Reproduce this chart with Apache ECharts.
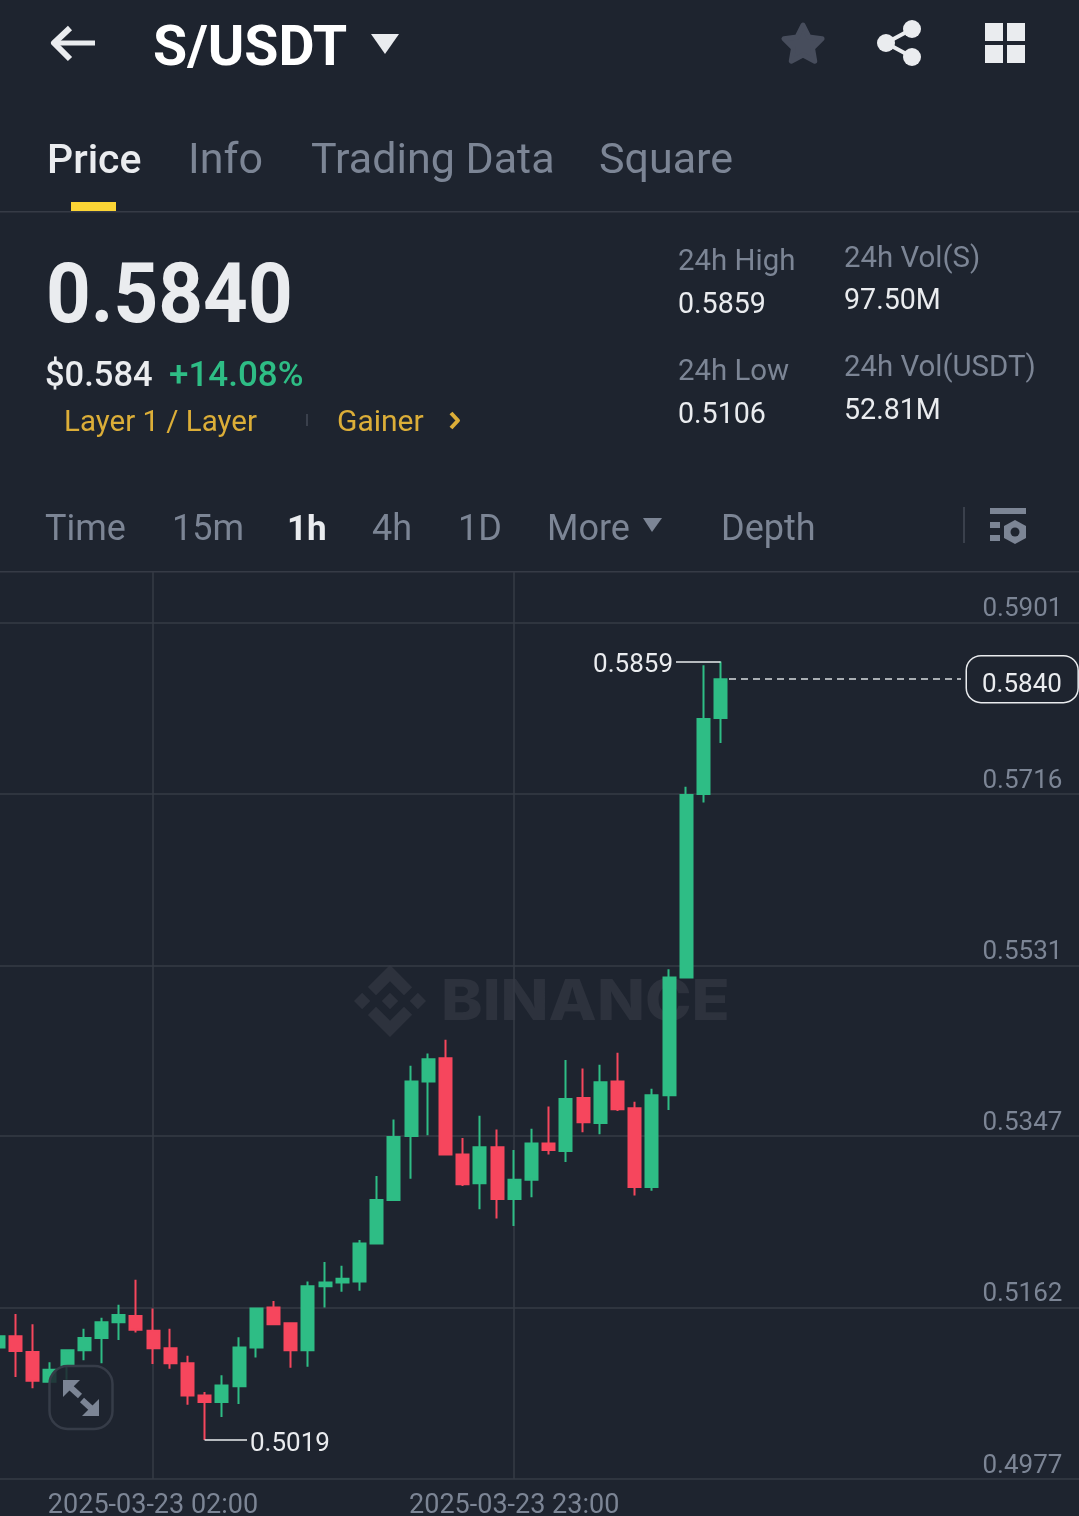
<!DOCTYPE html>
<html lang="en">
<head>
<meta charset="UTF-8">
<title>S/USDT</title>
<script src="https://cdn.jsdelivr.net/npm/echarts@6/dist/echarts.min.js"></script>
<style>
html, body { margin: 0; padding: 0; background: #1e242f; overflow: hidden; }
#main { width: 1079px; height: 1516px; }
</style>
</head>
<body>
<div id="main"></div>
<script>
// 1h candles. first one is 2025-03-22 17:00
var opens = [0.5119,0.5131,0.5114,0.5082,0.5100,0.5116,0.5129,0.5146,0.5153,0.5137,0.5118,0.5102,0.5067,0.5060,0.5077,0.5119,0.5162,0.5145,0.5116,0.5185,0.5189,0.5190,0.5231,0.5278,0.5347,0.5406,0.5431,0.5327,0.5296,0.5335,0.5279,0.5300,0.5339,0.5331,0.5388,0.5361,0.5406,0.5377,0.5292,0.5391,0.5518,0.5716,0.5798];
var closes = [0.5131,0.5115,0.5083,0.5095,0.5116,0.5129,0.5146,0.5154,0.5138,0.5118,0.5102,0.5067,0.5060,0.5078,0.5119,0.5161,0.5144,0.5116,0.5185,0.5189,0.5193,0.5231,0.5278,0.5346,0.5406,0.5430,0.5327,0.5295,0.5335,0.5279,0.5300,0.5339,0.5332,0.5387,0.5362,0.5405,0.5376,0.5292,0.5391,0.5518,0.5715,0.5797,0.5840];
var lows = [0.5116,0.5087,0.5075,0.5081,0.5084,0.5105,0.5102,0.5127,0.5135,0.5101,0.5096,0.5057,0.5019,0.5044,0.5058,0.5108,0.5143,0.5097,0.5098,0.5162,0.5179,0.5180,0.5230,0.5278,0.5301,0.5348,0.5326,0.5293,0.5268,0.5258,0.5250,0.5281,0.5327,0.5319,0.5351,0.5349,0.5374,0.5283,0.5288,0.5375,0.5517,0.5707,0.5771];
var highs = [0.5135,0.5155,0.5144,0.5103,0.5116,0.5139,0.5151,0.5165,0.5192,0.5161,0.5139,0.5110,0.5071,0.5089,0.5130,0.5161,0.5169,0.5146,0.5190,0.5211,0.5207,0.5235,0.5304,0.5365,0.5423,0.5436,0.5451,0.5345,0.5369,0.5354,0.5332,0.5355,0.5379,0.5429,0.5420,0.5424,0.5437,0.5384,0.5398,0.5527,0.5724,0.5855,0.5859];

var priceTicks = [0.4977, 0.5162, 0.5347, 0.5531, 0.5716, 0.5901];
var dateTicks = ['2025-03-23 02:00', '2025-03-23 23:00'];
var tabs = [['Price', 47], ['Info', 188], ['Trading Data', 311], ['Square', 599]];
var periods = [['Time', 45], ['15m', 172], ['1h', 287], ['4h', 372], ['1D', 458], ['More', 547], ['Depth', 721]];
var stats = [
    ['24h High', 678, 269, '0.5859', 312],
    ['24h Vol(S)', 844, 266, '97.50M', 308],
    ['24h Low', 678, 379, '0.5106', 422],
    ['24h Vol(USDT)', 844, 375, '52.81M', 418]
];

var BG = '#1e242f', GREEN = '#2ebd85', RED = '#f6465d', WHITE = '#eaecef', GRAY = '#7c8595', LINE = '#363b46', GOLD = '#dcae38';
var FONT = 'Roboto, sans-serif';
var MARK = '#2d323d';

// hourly slots, the right side of the chart is left empty
var slots = [];
for (var h = 0; h < 64; h++) {
    var d = new Date(Date.UTC(2025, 2, 22, 17 + h));
    slots.push(d.toISOString().slice(0, 16).replace('T', ' '));
}
var candles = opens.map(function (o, i) { return [o, closes[i], lows[i], highs[i]]; });
var lastIdx = opens.length - 1;
var maxHigh = Math.max.apply(null, highs), minLow = Math.min.apply(null, lows);
function isDateTick(i, name) { return dateTicks.indexOf(name) >= 0; }

function txt(s, x, base, size, fill, weight, scaleX) {
    return {
        type: 'text', x: x, y: base - size * 0.22, scaleX: scaleX || 1,
        style: { text: s, fill: fill, font: (weight || 400) + ' ' + size + 'px ' + FONT, verticalAlign: 'middle' }
    };
}
function poly(points, fill) {
    return { type: 'polygon', shape: { points: points }, style: { fill: fill } };
}
function stroke(points, color, w) {
    return { type: 'polyline', shape: { points: points }, style: { stroke: color, lineWidth: w, fill: 'none', lineJoin: 'round' } };
}
function rect(x, y, w, h, fill) {
    return { type: 'rect', shape: { x: x, y: y, width: w, height: h }, style: { fill: fill } };
}
function circle(x, y, r, fill) {
    return { type: 'circle', shape: { cx: x, cy: y, r: r }, style: { fill: fill } };
}
function starPoints(cx, cy, r) {
    var pts = [];
    for (var i = 0; i < 10; i++) {
        var a = -Math.PI / 2 + i * Math.PI / 5, q = i % 2 ? r * 0.5 : r;
        pts.push([cx + q * Math.cos(a), cy + q * Math.sin(a)]);
    }
    return pts;
}
// diamond logo of the watermark, drawn below the candles
function logoPart(points) {
    var s = 72 / 126.61;
    return {
        type: 'polygon', z: -1,
        shape: { points: points.map(function (p) { return [354 + p[0] * s, 965 + p[1] * s]; }) },
        style: { fill: MARK }
    };
}
// leader label, text sits a bit below its line
function leaderLabel(value) {
    return {
        formatter: '{t|' + value.toFixed(4) + '}', position: 'end', distance: 3,
        rich: { t: { color: WHITE, fontSize: 26, fontFamily: FONT, padding: [8, 0, 0, 0] } }
    };
}

var chrome = [
    // header
    stroke([[70, 28], [54, 43], [70, 59]], WHITE, 6),
    stroke([[55, 43], [95, 43]], WHITE, 5),
    txt('S/USDT', 153, 63, 55.5, '#ffffff', 700),
    poly([[371, 34], [399, 34], [385, 54]], WHITE),
    { type: 'polygon', shape: { points: starPoints(803, 45, 20) }, style: { fill: '#474d5c', stroke: '#474d5c', lineWidth: 5, lineJoin: 'round' } },
    stroke([[912, 29], [886, 43], [912, 57]], WHITE, 4),
    circle(912, 29, 9, WHITE), circle(912, 57, 9, WHITE), circle(886, 43, 9, WHITE),
    rect(985, 23, 18, 18, WHITE), rect(1007, 23, 18, 18, WHITE), rect(985, 45, 18, 18, WHITE), rect(1007, 45, 18, 18, WHITE),
    // tab bar
    rect(0, 211, 1079, 1.5, LINE),
    rect(71, 202, 45, 9, '#fcd535'),
    // price block
    txt('0.5840', 46, 319, 84, WHITE, 700, 0.93),
    txt('$0.584', 45, 385, 34.5, WHITE, 500),
    txt('+14.08%', 169, 385, 35, GREEN, 500),
    txt('Layer 1 / Layer', 64, 430, 29.5, GOLD),
    rect(306, 414, 2, 12, '#3a404c'),
    txt('Gainer', 337, 430, 30, GOLD),
    stroke([[451, 413], [458, 420.5], [451, 428]], GOLD, 4),
    // period row
    poly([[643, 518], [662, 518], [652, 532]], GRAY),
    rect(963, 507, 2, 36, '#3a404c'),
    rect(990, 508, 36, 6, GRAY), rect(990, 522, 10, 6, GRAY), rect(990, 535, 10, 6, GRAY),
    poly([[1015, 520], [1026, 526], [1026, 538], [1015, 544], [1004, 538], [1004, 526]], GRAY),
    circle(1015, 532, 4.5, BG),
    rect(0, 571, 1079, 1.5, LINE),
    // fullscreen button
    { type: 'rect', z: 10, shape: { x: 49.5, y: 1366, width: 63, height: 63, r: 18 }, style: { fill: 'rgba(30,36,47,0.85)', stroke: '#363c48', lineWidth: 2.5 } },
    { type: 'polygon', z: 11, shape: { points: [[63, 1380], [80, 1380], [63, 1397]] }, style: { fill: '#7c8595' } },
    { type: 'polygon', z: 11, shape: { points: [[99, 1416], [82, 1416], [99, 1399]] }, style: { fill: '#7c8595' } },
    { type: 'polyline', z: 11, shape: { points: [[69, 1386], [80, 1396]] }, style: { stroke: '#7c8595', lineWidth: 6, fill: 'none' } },
    { type: 'polyline', z: 11, shape: { points: [[82, 1400], [93, 1410]] }, style: { stroke: '#7c8595', lineWidth: 6, fill: 'none' } },
    // watermark
    logoPart([[38.73, 53.2], [63.32, 28.62], [87.92, 53.22], [102.22, 38.91], [63.32, 0], [24.43, 38.9]]),
    logoPart([[0, 63.31], [14.3, 49], [28.61, 63.31], [14.3, 77.61]]),
    logoPart([[38.73, 73.41], [63.32, 98], [87.93, 73.39], [102.24, 87.69], [63.32, 126.61], [24.42, 87.71]]),
    logoPart([[98, 63.31], [112.3, 49], [126.61, 63.31], [112.3, 77.61]]),
    logoPart([[77.83, 63.3], [63.32, 48.78], [48.82, 63.28], [63.32, 77.79]]),
    { type: 'text', z: -1, x: 441, y: 1003, scaleX: 1.12, style: { text: 'BINANCE', fill: MARK, font: '800 56px Inter, sans-serif', verticalAlign: 'middle' } }
];
tabs.forEach(function (t, i) {
    if (i === 0) chrome.push(txt(t[0], t[1], 171.5, 41, WHITE, 500));
    else chrome.push(txt(t[0], t[1], 171.5, 43, GRAY, 400));
});
periods.forEach(function (p) { chrome.push(txt(p[0], p[1], 539, p[0] === '1h' ? 35 : 36, p[0] === '1h' ? WHITE : GRAY, p[0] === '1h' ? 700 : 400)); });
stats.forEach(function (s) {
    chrome.push(txt(s[0], s[1], s[2], 29.4, GRAY));
    chrome.push(txt(s[3], s[1], s[4], 28.6, WHITE));
});

var myChart = echarts.init(document.getElementById('main'));
var option = {
    animation: false,
    backgroundColor: BG,
    textStyle: { fontFamily: FONT },
    grid: { left: -10.4, right: -11.4, top: 572, bottom: 37, outerBoundsMode: 'none' },
    xAxis: {
        type: 'category',
        data: slots,
        axisLine: { show: false },
        axisTick: { show: false, alignWithLabel: true, interval: isDateTick },
        axisLabel: { interval: isDateTick, color: GRAY, fontSize: 27, margin: 14, hideOverlap: false },
        splitLine: { show: true, alignWithLabel: true, interval: isDateTick, lineStyle: { color: LINE, width: 1.5 } }
    },
    yAxis: {
        type: 'value',
        position: 'right',
        min: 0.4977,
        max: 0.59556,
        axisLine: { show: false },
        axisTick: { show: false, customValues: priceTicks },
        axisLabel: {
            customValues: priceTicks,
            inside: true,
            margin: 28,
            color: GRAY,
            fontSize: 26,
            verticalAlign: 'bottom',
            showMinLabel: true,
            showMaxLabel: true,
            formatter: function (v) { return v.toFixed(4); }
        },
        splitLine: { show: true, lineStyle: { color: LINE, width: 1.5 } }
    },
    graphic: chrome,
    series: [{
        type: 'candlestick',
        data: candles,
        barWidth: 12.5,
        itemStyle: { color: GREEN, color0: RED, borderColor: GREEN, borderColor0: RED, borderWidth: 2 },
        markLine: {
            silent: true,
            symbol: 'none',
            animation: false,
            data: [
                [
                    { xAxis: highs.indexOf(maxHigh), yAxis: maxHigh, lineStyle: { color: WHITE, width: 1.5, type: 'solid' }, label: leaderLabel(maxHigh) },
                    { x: 676, yAxis: maxHigh }
                ],
                [
                    { xAxis: lows.indexOf(minLow), yAxis: minLow, lineStyle: { color: WHITE, width: 1.5, type: 'solid' }, label: leaderLabel(minLow) },
                    { x: 247, yAxis: minLow }
                ],
                [
                    { x: 729, yAxis: closes[lastIdx], lineStyle: { color: '#d8dbe0', width: 1.5, type: [7, 5] },
                      label: {
                          formatter: '{box|' + closes[lastIdx].toFixed(4) + '}', position: 'end', distance: 6,
                          rich: { box: { color: WHITE, fontSize: 26, fontFamily: FONT, lineHeight: 25, backgroundColor: BG, borderColor: WHITE, borderWidth: 1.5,
                                         borderRadius: 14, padding: [16, 15.5, 3.5, 15] } }
                      } },
                    { x: 961, yAxis: closes[lastIdx] }
                ]
            ]
        }
    }]
};
myChart.setOption(option);
</script>
</body>
</html>
